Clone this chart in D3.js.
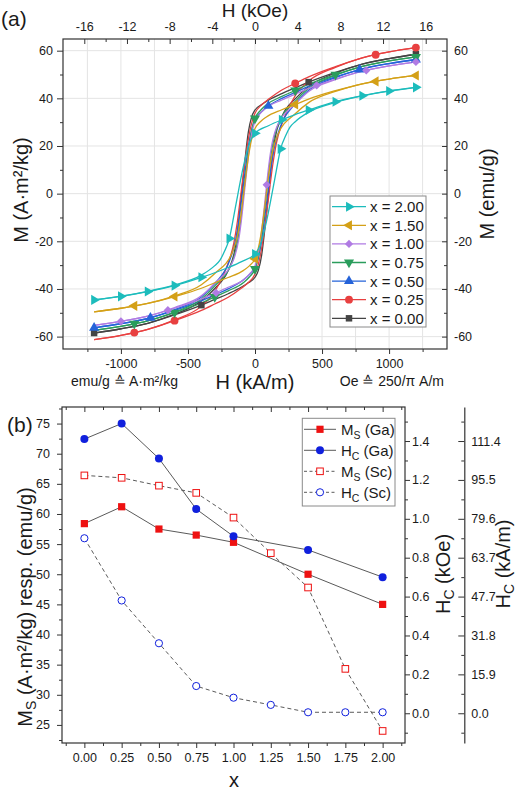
<!DOCTYPE html>
<html><head><meta charset="utf-8">
<script src="https://cdn.jsdelivr.net/npm/d3@7"></script>
<style>body{margin:0;background:#fff} svg{display:block}</style>
</head><body><svg id="c" width="520" height="790"></svg>
<script>
// ================= DATA =================
// Panel (a): hysteresis loops, H in kA/m, M in A·m²/kg
const loopLabels  = ["x = 2.00","x = 1.50","x = 1.00","x = 0.75","x = 0.50","x = 0.25","x = 0.00"];
const loopColors  = ["#1cbcbc","#d4a017","#b07be3","#2a9d5c","#2563d9","#e84040","#444444"];
const loopSymbols = ["triR","triL","diamond","triD","triU","circle","square"];

// descending (upper) branches
const up200 = [[1200,44.6],[1000,43.1],[800,41.1],[600,38.6],[400,35.1],[300,33.2],[200,31.0],[100,28.5],[0,25.3],[-40,21.5],[-87,11.3],[-136,-2.7],[-160,-10.0],[-191,-18.8],[-230,-24.5],[-261,-27.9],[-300,-30.2],[-400,-34.2],[-600,-38.3],[-800,-41.0],[-1000,-43.0],[-1200,-44.6]];
const up150 = [[1200,49.6],[1000,48.1],[800,46.1],[600,43.2],[400,39.7],[300,37.4],[200,35.2],[85,32.2],[42,30.3],[0,27.3],[-21,23.8],[-42,17.9],[-64,9.4],[-85,0],[-106,-9.4],[-128,-16.9],[-170,-24.8],[-300,-33.5],[-400,-38.2],[-600,-42.9],[-800,-46.1],[-1000,-48.1],[-1200,-49.6]];
const up100 = [[1200,55.3],[1000,53.6],[800,51.4],[600,48.1],[400,44.2],[300,41.8],[200,39.3],[80,35.9],[40,33.7],[0,30.4],[-20,26.5],[-40,19.9],[-60,10.5],[-80,0],[-100,-10.5],[-120,-18.8],[-160,-27.7],[-300,-37.6],[-400,-42.9],[-600,-47.8],[-800,-51.4],[-1000,-53.6],[-1200,-55.3]];
const up075 = [[1200,57.4],[1000,55.7],[800,53.4],[600,49.9],[400,45.9],[300,43.3],[200,40.8],[85,37.3],[42,35.0],[0,31.6],[-21,27.6],[-42,20.7],[-64,10.9],[-85,0],[-106,-10.9],[-128,-19.5],[-170,-28.7],[-300,-38.7],[-400,-44.2],[-600,-49.7],[-800,-53.4],[-1000,-55.7],[-1200,-57.4]];
const up050 = [[1200,56.3],[1000,54.6],[800,52.4],[600,49.0],[400,45.0],[300,42.5],[200,40.0],[95,36.6],[48,34.3],[0,31.0],[-24,27.0],[-48,20.3],[-71,10.7],[-95,0],[-119,-10.7],[-143,-19.1],[-190,-28.2],[-300,-37.7],[-400,-43.4],[-600,-48.7],[-800,-52.4],[-1000,-54.6],[-1200,-56.3]];
const up025 = [[1200,61.3],[1000,59.5],[800,57.0],[600,53.3],[400,49.0],[300,46.3],[200,43.5],[105,39.8],[52,37.4],[0,33.7],[-26,29.4],[-52,22.1],[-79,11.6],[-105,0],[-131,-11.6],[-158,-20.8],[-210,-30.7],[-300,-41.1],[-400,-47.2],[-600,-53.0],[-800,-57.0],[-1000,-59.5],[-1200,-61.3]];
const up000 = [[1200,58.5],[1000,56.7],[800,54.4],[600,50.9],[400,46.8],[300,44.4],[200,42.0],[100,39.2],[50,37.4],[0,35.1],[-25,32.2],[-50,25.7],[-75,14.0],[-100,0],[-125,-13.5],[-150,-23.4],[-200,-32.2],[-300,-39.8],[-400,-45.0],[-600,-50.6],[-800,-54.4],[-1000,-56.7],[-1200,-58.5]];

// ascending (lower) branches
const lo200 = [[-1200,-44.6],[-1000,-43.1],[-800,-41.1],[-600,-38.6],[-400,-35.1],[-300,-33.2],[-200,-31.0],[-100,-28.5],[0,-25.3],[40,-21.5],[87,-11.3],[136,2.7],[160,10.0],[191,18.8],[230,24.5],[261,27.9],[300,30.2],[400,34.2],[600,38.3],[800,41.0],[1000,43.0],[1200,44.6]];
const lo150 = [[-1200,-49.6],[-1000,-48.1],[-800,-46.1],[-600,-43.2],[-400,-39.7],[-300,-37.4],[-200,-35.2],[-85,-32.2],[-42,-30.3],[0,-27.3],[21,-23.8],[42,-17.9],[64,-9.4],[85,0],[106,9.4],[128,16.9],[170,24.8],[300,33.5],[400,38.2],[600,42.9],[800,46.1],[1000,48.1],[1200,49.6]];
const lo100 = [[-1200,-55.3],[-1000,-53.6],[-800,-51.4],[-600,-48.1],[-400,-44.2],[-300,-41.8],[-200,-39.3],[-80,-35.9],[-40,-33.7],[0,-30.4],[20,-26.5],[40,-19.9],[60,-10.5],[80,0],[100,10.5],[120,18.8],[160,27.7],[300,37.6],[400,42.9],[600,47.8],[800,51.4],[1000,53.6],[1200,55.3]];
const lo075 = [[-1200,-57.4],[-1000,-55.7],[-800,-53.4],[-600,-49.9],[-400,-45.9],[-300,-43.3],[-200,-40.8],[-85,-37.3],[-42,-35.0],[0,-31.6],[21,-27.6],[42,-20.7],[64,-10.9],[85,0],[106,10.9],[128,19.5],[170,28.7],[300,38.7],[400,44.2],[600,49.7],[800,53.4],[1000,55.7],[1200,57.4]];
const lo050 = [[-1200,-56.3],[-1000,-54.6],[-800,-52.4],[-600,-49.0],[-400,-45.0],[-300,-42.5],[-200,-40.0],[-95,-36.6],[-48,-34.3],[0,-31.0],[24,-27.0],[48,-20.3],[71,-10.7],[95,0],[119,10.7],[143,19.1],[190,28.2],[300,37.7],[400,43.4],[600,48.7],[800,52.4],[1000,54.6],[1200,56.3]];
const lo025 = [[-1200,-61.3],[-1000,-59.5],[-800,-57.0],[-600,-53.3],[-400,-49.0],[-300,-46.3],[-200,-43.5],[-105,-39.8],[-52,-37.4],[0,-33.7],[26,-29.4],[52,-22.1],[79,-11.6],[105,0],[131,11.6],[158,20.8],[210,30.7],[300,41.1],[400,47.2],[600,53.0],[800,57.0],[1000,59.5],[1200,61.3]];
const lo000 = [[-1200,-58.5],[-1000,-56.7],[-800,-54.4],[-600,-50.9],[-400,-46.8],[-300,-44.4],[-200,-42.0],[-100,-39.2],[-50,-37.4],[0,-35.1],[25,-32.2],[50,-25.7],[75,-14.0],[100,0],[125,13.5],[150,23.4],[200,32.2],[300,39.8],[400,45.0],[600,50.6],[800,54.4],[1000,56.7],[1200,58.5]];

// marker points shown on the loops
const mk200 = [[1200,44.6],[1000,43.1],[800,41.1],[600,38.6],[400,35.1],[200,31.0],[0,25.3],[-191,-18.8],[-1200,-44.6],[-1000,-43.1],[-800,-41.1],[-600,-38.6],[-400,-35.1],[0,-25.3],[191,18.8]];
const mk150 = [[1200,49.6],[900,47.1],[300,37.4],[-900,-47.1],[-600,-43.2],[0,-27.3]];
const mk100 = [[1200,55.3],[830,51.7],[460,45.4],[-1000,-53.6],[-650,-48.9],[-290,-41.6],[87,3.7]];
const mk075 = [[1200,57.4],[600,49.9],[300,43.3],[0,31.6],[-900,-54.6],[-600,-49.9],[-300,-43.3],[0,-31.6]];
const mk050 = [[1200,56.3],[780,52.1],[100,36.8],[-1200,-56.3],[-780,-52.1]];
const mk025 = [[1200,61.3],[900,58.3],[300,46.3],[-900,-58.3],[-600,-53.3]];
const mk000 = [[1200,58.5],[400,46.8],[-1200,-58.5],[-400,-46.8]];

const loopUp = [up200,up150,up100,up075,up050,up025,up000];
const loopLo = [lo200,lo150,lo100,lo075,lo050,lo025,lo000];
const loopMk = [mk200,mk150,mk100,mk075,mk050,mk025,mk000];

// Panel (a) tick labels
const aBottomTicks = [-1000,-500,0,500,1000];
const aBottomMinor = [-1250,-750,-250,250,750,1250];
const aGridX = [-1250,-1000,-750,-500,-250,0,250,500,750,1000,1250];
const aTopTicks = [-16,-12,-8,-4,0,4,8,12,16];
const aTopMinor = [-14,-10,-6,-2,2,6,10,14];
const aYTicks = [-60,-40,-20,0,20,40,60];
const aYMinor = [-50,-30,-10,10,30,50];

// Panel (b): saturation magnetisation and coercivity vs x
const xGa  = [0,0.25,0.5,0.75,1.0,1.5,2.0];
const MsGa = [58.4,61.2,57.5,56.5,55.3,50.0,45.0];
const HcGa = [1.41,1.49,1.31,1.05,0.91,0.84,0.70];      // kOe
const xSc  = [0,0.25,0.5,0.75,1.0,1.25,1.5,1.75,2.0];
const MsSc = [66.4,66.0,64.7,63.5,59.4,53.5,47.8,34.3,24.0];
const HcSc = [0.90,0.58,0.36,0.14,0.08,0.043,0.005,0.005,0.005]; // kOe
const bLegend = [["M","S"," (Ga)"],["H","C"," (Ga)"],["M","S"," (Sc)"],["H","C"," (Sc)"]];

const bXTicks = [0,0.25,0.5,0.75,1.0,1.25,1.5,1.75,2.0];
const bXMinor = [-0.125,0.125,0.375,0.625,0.875,1.125,1.375,1.625,1.875,2.125];
const bYTicks = [25,30,35,40,45,50,55,60,65,70,75];
const bYMinor = [22.5,27.5,32.5,37.5,42.5,47.5,52.5,57.5,62.5,67.5,72.5,77.5];
const bHTicks = [0,0.2,0.4,0.6,0.8,1.0,1.2,1.4];
const bHMinor = [-0.1,0.1,0.3,0.5,0.7,0.9,1.1,1.3,1.5];
const bHkAmLabels = ["0.0","15.9","31.8","47.7","63.7","79.6","95.5","111.4"];

// ================= DRAW =================
const FONT = '"Liberation Sans", Arial, Helvetica, sans-serif';
const INK = "#1a1a1a", AX = "#333";
const svg = d3.select("#c").attr("font-family", FONT);

function styleAxis(g, keepDomain){
  if(!keepDomain) g.select(".domain").remove();
  else g.select(".domain").attr("stroke",AX).attr("stroke-width",1.2);
  g.selectAll(".tick line").attr("stroke",AX).attr("stroke-width",1);
  g.selectAll("text").attr("font-size",12.5).attr("fill",INK).attr("font-family",FONT);
  return g;
}
function addAxis(gen, tx, ty, keepDomain){
  const g = svg.append("g").attr("transform",`translate(${tx},${ty})`).call(gen);
  return styleAxis(g, keepDomain);
}
const fmtPlain = d => String(d);

const symMap = {
  square:[d3.symbolSquare,42,0], circle:[d3.symbolCircle,48,0],
  triU:[d3.symbolTriangle,44,0], triD:[d3.symbolTriangle,44,180],
  triL:[d3.symbolTriangle,44,-90], triR:[d3.symbolTriangle,44,90],
  diamond:[d3.symbolSquare,34,45]
};
function drawSym(g, type, x, y, fill, stroke){
  const [t,s,r] = symMap[type];
  g.append("path").attr("d", d3.symbol().type(t).size(s)())
    .attr("transform",`translate(${x},${y}) rotate(${r})`)
    .attr("fill",fill).attr("stroke",stroke||"none").attr("stroke-width",stroke?1:0);
}

// ---------- Panel (a) ----------
const A = {l:63, r:447, t:39, b:349};
const xA  = d3.scaleLinear().domain([-1432,1432]).range([A.l,A.r]);
const xAk = d3.scaleLinear().domain([-1432/79.577, 1432/79.577]).range([A.l,A.r]);
const yA  = d3.scaleLinear().domain([-65.2,64.9]).range([A.b,A.t]);

const gridA = svg.append("g");
gridA.selectAll("line.v").data(aGridX).join("line")
  .attr("x1",d=>xA(d)).attr("x2",d=>xA(d)).attr("y1",A.t).attr("y2",A.b)
  .attr("stroke","#e4e4e4").attr("stroke-width",1);
gridA.selectAll("line.h").data(aYTicks).join("line")
  .attr("x1",A.l).attr("x2",A.r).attr("y1",d=>yA(d)).attr("y2",d=>yA(d))
  .attr("stroke","#e4e4e4").attr("stroke-width",1);

const lineA = d3.line().x(d=>xA(d[0])).y(d=>yA(d[1])).curve(d3.curveMonotoneX);
const loopsG = svg.append("g");
for(let i=loopLabels.length-1;i>=0;i--){
  [loopUp[i], loopLo[i]].forEach(br=>{
    const pts = br.slice().sort((a,b)=>a[0]-b[0]);
    loopsG.append("path").attr("d",lineA(pts)).attr("fill","none")
      .attr("stroke",loopColors[i]).attr("stroke-width",1.3);
  });
}
const mkG = svg.append("g");
for(let i=loopLabels.length-1;i>=0;i--){
  loopMk[i].forEach(p=>drawSym(mkG, loopSymbols[i], xA(p[0]), yA(p[1]), loopColors[i]));
}

// axes (a)
addAxis(d3.axisBottom(xA).tickValues(aBottomTicks).tickSize(5).tickSizeOuter(0).tickPadding(5).tickFormat(fmtPlain), 0, A.b);
addAxis(d3.axisBottom(xA).tickValues(aBottomMinor).tickSize(3).tickSizeOuter(0).tickFormat(""), 0, A.b);
addAxis(d3.axisTop(xAk).tickValues(aTopTicks).tickSize(-5).tickSizeOuter(0).tickPadding(8).tickFormat(fmtPlain), 0, A.t);
addAxis(d3.axisTop(xAk).tickValues(aTopMinor).tickSize(-3).tickSizeOuter(0).tickFormat(""), 0, A.t);
addAxis(d3.axisLeft(yA).tickValues(aYTicks).tickSize(6).tickSizeOuter(0).tickPadding(4).tickFormat(fmtPlain), A.l, 0);
addAxis(d3.axisLeft(yA).tickValues(aYMinor).tickSize(3).tickSizeOuter(0).tickFormat(""), A.l, 0);
addAxis(d3.axisRight(yA).tickValues(aYTicks).tickSize(-5).tickSizeOuter(0).tickPadding(7).tickFormat(fmtPlain), A.r, 0);
addAxis(d3.axisRight(yA).tickValues(aYMinor).tickSize(-3).tickSizeOuter(0).tickFormat(""), A.r, 0);
svg.append("rect").attr("x",A.l).attr("y",A.t).attr("width",A.r-A.l).attr("height",A.b-A.t)
  .attr("fill","none").attr("stroke",AX).attr("stroke-width",1.2);

// legend (a)
const legA = svg.append("g");
legA.append("rect").attr("x",330).attr("y",196).attr("width",96).attr("height",131)
  .attr("fill","#fff").attr("stroke","#8a8a8a").attr("stroke-width",1);
loopLabels.forEach((lab,i)=>{
  const y = 206.7 + i*18.6;
  legA.append("line").attr("x1",332).attr("x2",366).attr("y1",y).attr("y2",y)
    .attr("stroke",loopColors[i]).attr("stroke-width",1.3);
  drawSym(legA, loopSymbols[i], 349, y, loopColors[i]);
  legA.append("text").attr("x",370).attr("y",y).attr("dy","0.36em")
    .attr("font-size",15).attr("fill",INK).text(lab);
});

// titles (a)
svg.append("text").attr("x",1).attr("y",26).attr("font-size",21).attr("fill",INK).text("(a)");
svg.append("text").attr("x",255).attr("y",17).attr("text-anchor","middle").attr("font-size",19).attr("fill",INK).text("H (kOe)");
svg.append("text").attr("x",255).attr("y",389).attr("text-anchor","middle").attr("font-size",20).attr("fill",INK).text("H (kA/m)");
svg.append("text").attr("x",71).attr("y",386).attr("font-size",14).attr("fill",INK).text("emu/g ≙ A·m²/kg");
svg.append("text").attr("x",444).attr("y",386).attr("text-anchor","end").attr("font-size",14).attr("fill",INK).text("Oe ≙ 250/π A/m");
svg.append("text").attr("transform","translate(28,190) rotate(-90)").attr("text-anchor","middle")
  .attr("font-size",20).attr("fill",INK).text("M (A·m²/kg)");
svg.append("text").attr("transform","translate(494,194) rotate(-90)").attr("text-anchor","middle")
  .attr("font-size",20).attr("fill",INK).text("M (emu/g)");

// ---------- Panel (b) ----------
const B = {l:62, r:405, t:407, b:743};
const xB = d3.scaleLinear().domain([-0.15,2.15]).range([B.l,B.r]);
const yB = d3.scaleLinear().domain([22,77.75]).range([B.b,B.t]);
const yH = d3.scaleLinear().domain([-0.153,1.575]).range([B.b,B.t]);

const lineGray = "#5a5a5a";
const lnMs = d3.line().x(d=>xB(d[0])).y(d=>yB(d[1]));
const lnH  = d3.line().x(d=>xB(d[0])).y(d=>yH(d[1]));
const ga_ms = xGa.map((x,i)=>[x,MsGa[i]]);
const ga_hc = xGa.map((x,i)=>[x,HcGa[i]]);
const sc_ms = xSc.map((x,i)=>[x,MsSc[i]]);
const sc_hc = xSc.map((x,i)=>[x,HcSc[i]]);
const gB = svg.append("g");
gB.append("path").attr("d",lnMs(sc_ms)).attr("fill","none").attr("stroke",lineGray).attr("stroke-width",1).attr("stroke-dasharray","4,3");
gB.append("path").attr("d",lnH(sc_hc)).attr("fill","none").attr("stroke",lineGray).attr("stroke-width",1).attr("stroke-dasharray","4,3");
gB.append("path").attr("d",lnMs(ga_ms)).attr("fill","none").attr("stroke",lineGray).attr("stroke-width",1);
gB.append("path").attr("d",lnH(ga_hc)).attr("fill","none").attr("stroke",lineGray).attr("stroke-width",1);

const RED="#ee1111", BLUE="#1020dd";
sc_ms.forEach(p=>gB.append("rect").attr("x",xB(p[0])-3.3).attr("y",yB(p[1])-3.3).attr("width",6.6).attr("height",6.6).attr("fill","#fff").attr("stroke",RED).attr("stroke-width",1));
sc_hc.forEach(p=>gB.append("circle").attr("cx",xB(p[0])).attr("cy",yH(p[1])).attr("r",3.6).attr("fill","#fff").attr("stroke",BLUE).attr("stroke-width",1));
ga_ms.forEach(p=>gB.append("rect").attr("x",xB(p[0])-3.6).attr("y",yB(p[1])-3.6).attr("width",7.2).attr("height",7.2).attr("fill",RED));
ga_hc.forEach(p=>gB.append("circle").attr("cx",xB(p[0])).attr("cy",yH(p[1])).attr("r",4).attr("fill",BLUE));

// axes (b)
addAxis(d3.axisBottom(xB).tickValues(bXTicks).tickSize(5).tickSizeOuter(0).tickPadding(5).tickFormat(d3.format(".2f")), 0, B.b);
addAxis(d3.axisBottom(xB).tickValues(bXMinor).tickSize(3).tickSizeOuter(0).tickFormat(""), 0, B.b);
addAxis(d3.axisTop(xB).tickValues(bXTicks).tickSize(-5).tickSizeOuter(0).tickFormat(""), 0, B.t);
addAxis(d3.axisTop(xB).tickValues(bXMinor).tickSize(-3).tickSizeOuter(0).tickFormat(""), 0, B.t);
addAxis(d3.axisLeft(yB).tickValues(bYTicks).tickSize(5).tickSizeOuter(0).tickPadding(7).tickFormat(fmtPlain), B.l, 0);
addAxis(d3.axisLeft(yB).tickValues(bYMinor).tickSize(3).tickSizeOuter(0).tickFormat(""), B.l, 0);
addAxis(d3.axisRight(yH).tickValues(bHTicks).tickSize(5).tickSizeOuter(0).tickPadding(2).tickFormat(d3.format(".1f")), B.r, 0);
addAxis(d3.axisRight(yH).tickValues(bHMinor).tickSize(3).tickSizeOuter(0).tickFormat(""), B.r, 0);
addAxis(d3.axisRight(yH).tickValues(bHTicks).tickSize(-6).tickSizeOuter(0).tickPadding(7).tickFormat((d,i)=>bHkAmLabels[i]), 464.3, 0, true);
addAxis(d3.axisRight(yH).tickValues(bHMinor).tickSize(-3).tickSizeOuter(0).tickFormat(""), 464.3, 0);
svg.append("rect").attr("x",B.l).attr("y",B.t).attr("width",B.r-B.l).attr("height",B.b-B.t)
  .attr("fill","none").attr("stroke",AX).attr("stroke-width",1.2);

// legend (b)
const legB = svg.append("g");
legB.append("rect").attr("x",302.3).attr("y",418.3).attr("width",92.7).attr("height",87.7)
  .attr("fill","#fff").attr("stroke","#8a8a8a").attr("stroke-width",1);
const legBy = [429.3,450.3,471.3,492.3];
bLegend.forEach((lab,i)=>{
  const y = legBy[i];
  legB.append("line").attr("x1",304).attr("x2",336).attr("y1",y).attr("y2",y)
    .attr("stroke",lineGray).attr("stroke-width",1).attr("stroke-dasharray", i>=2?"3,2.5":null);
  if(i===0) legB.append("rect").attr("x",320-3.6).attr("y",y-3.6).attr("width",7.2).attr("height",7.2).attr("fill",RED);
  if(i===1) legB.append("circle").attr("cx",320).attr("cy",y).attr("r",4).attr("fill",BLUE);
  if(i===2) legB.append("rect").attr("x",320-3.3).attr("y",y-3.3).attr("width",6.6).attr("height",6.6).attr("fill","#fff").attr("stroke",RED);
  if(i===3) legB.append("circle").attr("cx",320).attr("cy",y).attr("r",3.6).attr("fill","#fff").attr("stroke",BLUE);
  const t = legB.append("text").attr("x",341).attr("y",y).attr("dy","0.36em").attr("font-size",15).attr("fill",INK);
  t.append("tspan").text(lab[0]);
  t.append("tspan").attr("font-size",10.5).attr("dy",4).text(lab[1]);
  t.append("tspan").attr("dy",-4).text(lab[2]);
});

// titles (b)
svg.append("text").attr("x",7).attr("y",432).attr("font-size",21).attr("fill",INK).text("(b)");
svg.append("text").attr("x",234).attr("y",787).attr("text-anchor","middle").attr("font-size",20).attr("fill",INK).text("x");
function subTitle(tx,ty,a,s,b){
  const t = svg.append("text").attr("transform",`translate(${tx},${ty}) rotate(-90)`).attr("text-anchor","middle")
    .attr("font-size",20).attr("fill",INK);
  t.append("tspan").text(a);
  t.append("tspan").attr("font-size",14).attr("dy",4).text(s);
  t.append("tspan").attr("dy",-4).text(b);
}
subTitle(32,607,"M","S"," (A·m²/kg) resp. (emu/g)");
subTitle(450,574,"H","C"," (kOe)");
subTitle(510,564,"H","C"," (kA/m)");
</script>
</body></html>
